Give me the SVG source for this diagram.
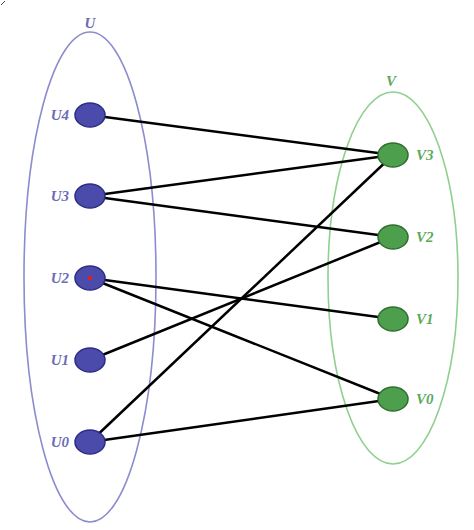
<svg xmlns="http://www.w3.org/2000/svg" width="474" height="530" viewBox="0 0 474 530">
<style>
.ue{fill:none;stroke:#8c8cce;stroke-width:1.6}
.ve{fill:none;stroke:#8fd08f;stroke-width:1.6}
.un{fill:#4b4bab;stroke:#2c2c86;stroke-width:1.5}
.vn{fill:#4d9e4d;stroke:#2e6e2e;stroke-width:1.5}
.ut{font-family:"Liberation Serif",serif;font-style:italic;font-weight:bold;font-size:15px;fill:#6c6cb4}
.vt{font-family:"Liberation Serif",serif;font-style:italic;font-weight:bold;font-size:15px;fill:#5aaa5a}
.e{stroke:#000;stroke-width:2.5;fill:none}
</style>
<rect width="474" height="530" fill="#fff"/>
<path d="M1 5 L5 1" stroke="#444" stroke-width="1"/>
<g id="setU"><ellipse class="ue" cx="90" cy="277" rx="66" ry="245"/><text class="ut" x="90" y="28" text-anchor="middle">U</text></g>
<g id="setV"><ellipse class="ve" cx="393" cy="278" rx="65" ry="186"/><text class="vt" x="391" y="86" text-anchor="middle">V</text></g>
<g id="edges">
<line class="e" x1="90" y1="115" x2="393" y2="155"/>
<line class="e" x1="90" y1="196" x2="393" y2="155"/>
<line class="e" x1="90" y1="196" x2="393" y2="237"/>
<line class="e" x1="90" y1="278" x2="393" y2="319"/>
<line class="e" x1="90" y1="278" x2="393" y2="399"/>
<line class="e" x1="90" y1="360" x2="393" y2="237"/>
<line class="e" x1="90" y1="442" x2="393" y2="155"/>
<line class="e" x1="90" y1="442" x2="393" y2="399"/>
</g>
<g id="U4"><ellipse class="un" cx="90" cy="115" rx="15" ry="12"/><text class="ut" x="69" y="120" text-anchor="end">U4</text></g>
<g id="U3"><ellipse class="un" cx="90" cy="196" rx="15" ry="12"/><text class="ut" x="69" y="201" text-anchor="end">U3</text></g>
<g id="U2"><ellipse class="un" cx="90" cy="278" rx="15" ry="12"/><circle cx="90" cy="278" r="2.2" fill="#e02020"/><text class="ut" x="69" y="283" text-anchor="end">U2</text></g>
<g id="U1"><ellipse class="un" cx="90" cy="360" rx="15" ry="12"/><text class="ut" x="69" y="365" text-anchor="end">U1</text></g>
<g id="U0"><ellipse class="un" cx="90" cy="442" rx="15" ry="12"/><text class="ut" x="69" y="447" text-anchor="end">U0</text></g>
<g id="V3"><ellipse class="vn" cx="393" cy="155" rx="15" ry="12"/><text class="vt" x="416" y="160">V3</text></g>
<g id="V2"><ellipse class="vn" cx="393" cy="237" rx="15" ry="12"/><text class="vt" x="416" y="242">V2</text></g>
<g id="V1"><ellipse class="vn" cx="393" cy="319" rx="15" ry="12"/><text class="vt" x="416" y="324">V1</text></g>
<g id="V0"><ellipse class="vn" cx="393" cy="399" rx="15" ry="12"/><text class="vt" x="416" y="404">V0</text></g>
</svg>
